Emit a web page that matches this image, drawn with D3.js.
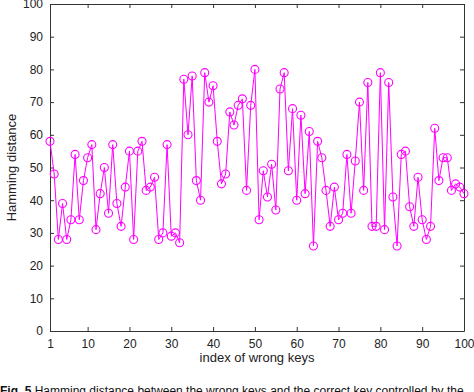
<!DOCTYPE html>
<html>
<head>
<meta charset="utf-8">
<script src="https://cdn.jsdelivr.net/npm/d3@7"></script>
<style>
  html, body { margin: 0; padding: 0; background: #fff; }
  svg { display: block; }
  text { font-family: "Liberation Sans", Arial, sans-serif; }
</style>
</head>
<body>
<svg id="chart" width="474" height="392"></svg>
<script>
const hammingDistance = [
  58, 48, 28, 39, 28, 34, 54, 34, 46, 53,
  57, 31, 42, 50, 36, 57, 39, 32, 44, 55,
  28, 55, 58, 43, 44, 47, 28, 30, 57, 29,
  30, 27, 77, 60, 78, 46, 40, 79, 70, 75,
  58, 45, 48, 67, 63, 69, 71, 43, 69, 80,
  34, 49, 41, 51, 37, 74, 79, 49, 68, 40,
  66, 42, 61, 26, 58, 53, 43, 32, 44, 34,
  36, 54, 36, 52, 70, 43, 76, 32, 32, 79,
  31, 76, 41, 26, 54, 55, 38, 32, 47, 34,
  28, 32, 62, 46, 53, 53, 43, 45, 44, 42
];
const keyIndex = hammingDistance.map((_, i) => i + 1);
const xTickValues = [1, 10, 20, 30, 40, 50, 60, 70, 80, 90, 100];
const yTickValues = [0, 10, 20, 30, 40, 50, 60, 70, 80, 90, 100];
const xLabel = "index of wrong keys";
const yLabel = "Hamming distance";
const caption = "Hamming distance between the wrong keys and the correct key controlled by the";

(function () {
const svg = d3.select("#chart");
const mLeft = 50, mRight = 464, mTop = 4, mBottom = 331;
const color = "#ff00ff";

const x = d3.scaleLinear().domain([1, 100]).range([mLeft, mRight]);
const y = d3.scaleLinear().domain([0, 100]).range([mBottom, mTop]);

const xAxis = svg.append("g").attr("transform", `translate(0,${mBottom})`)
  .call(d3.axisBottom(x).tickValues(xTickValues).tickSizeInner(-4).tickSizeOuter(0).tickPadding(8));
const xAxisTop = svg.append("g").attr("transform", `translate(0,${mTop})`)
  .call(d3.axisTop(x).tickValues(xTickValues).tickSizeInner(-4).tickSizeOuter(0).tickFormat(""));
const yAxis = svg.append("g").attr("transform", `translate(${mLeft},0)`)
  .call(d3.axisLeft(y).tickValues(yTickValues).tickSizeInner(-4).tickSizeOuter(0).tickPadding(7));
const yAxisRight = svg.append("g").attr("transform", `translate(${mRight},0)`)
  .call(d3.axisRight(y).tickValues(yTickValues).tickSizeInner(-4).tickSizeOuter(0).tickFormat(""));

[xAxis, xAxisTop, yAxis, yAxisRight].forEach(g => {
  g.selectAll("path.domain").attr("stroke", "#333").attr("stroke-width", 1);
  g.selectAll(".tick line").attr("stroke", "#333");
  g.selectAll(".tick text").attr("fill", "#222").style("font-size", "12px")
    .style("font-family", '"Liberation Sans", Arial, sans-serif');
});

const line = d3.line().x((d, i) => x(keyIndex[i])).y(d => y(d));
svg.append("path").datum(hammingDistance)
  .attr("d", line).attr("fill", "none").attr("stroke", color).attr("stroke-width", 1);

svg.append("g").selectAll("circle").data(hammingDistance).join("circle")
  .attr("cx", (d, i) => x(keyIndex[i])).attr("cy", d => y(d)).attr("r", 4)
  .attr("fill", "none").attr("stroke", color).attr("stroke-width", 1.1);

svg.append("text").attr("x", (mLeft + mRight) / 2).attr("y", 362)
  .attr("text-anchor", "middle").attr("fill", "#222").style("font-size", "13px").text(xLabel);
svg.append("text").attr("transform", `translate(16,${(mTop + mBottom) / 2}) rotate(-90)`)
  .attr("text-anchor", "middle").attr("fill", "#222").style("font-size", "13px").text(yLabel);

const cap = svg.append("text").attr("x", 0).attr("y", 395).attr("fill", "#111").style("font-size", "12px");
cap.append("tspan").attr("font-weight", "bold").text("Fig. 5 ");
cap.append("tspan").text(caption);
})();
</script>
</body>
</html>
